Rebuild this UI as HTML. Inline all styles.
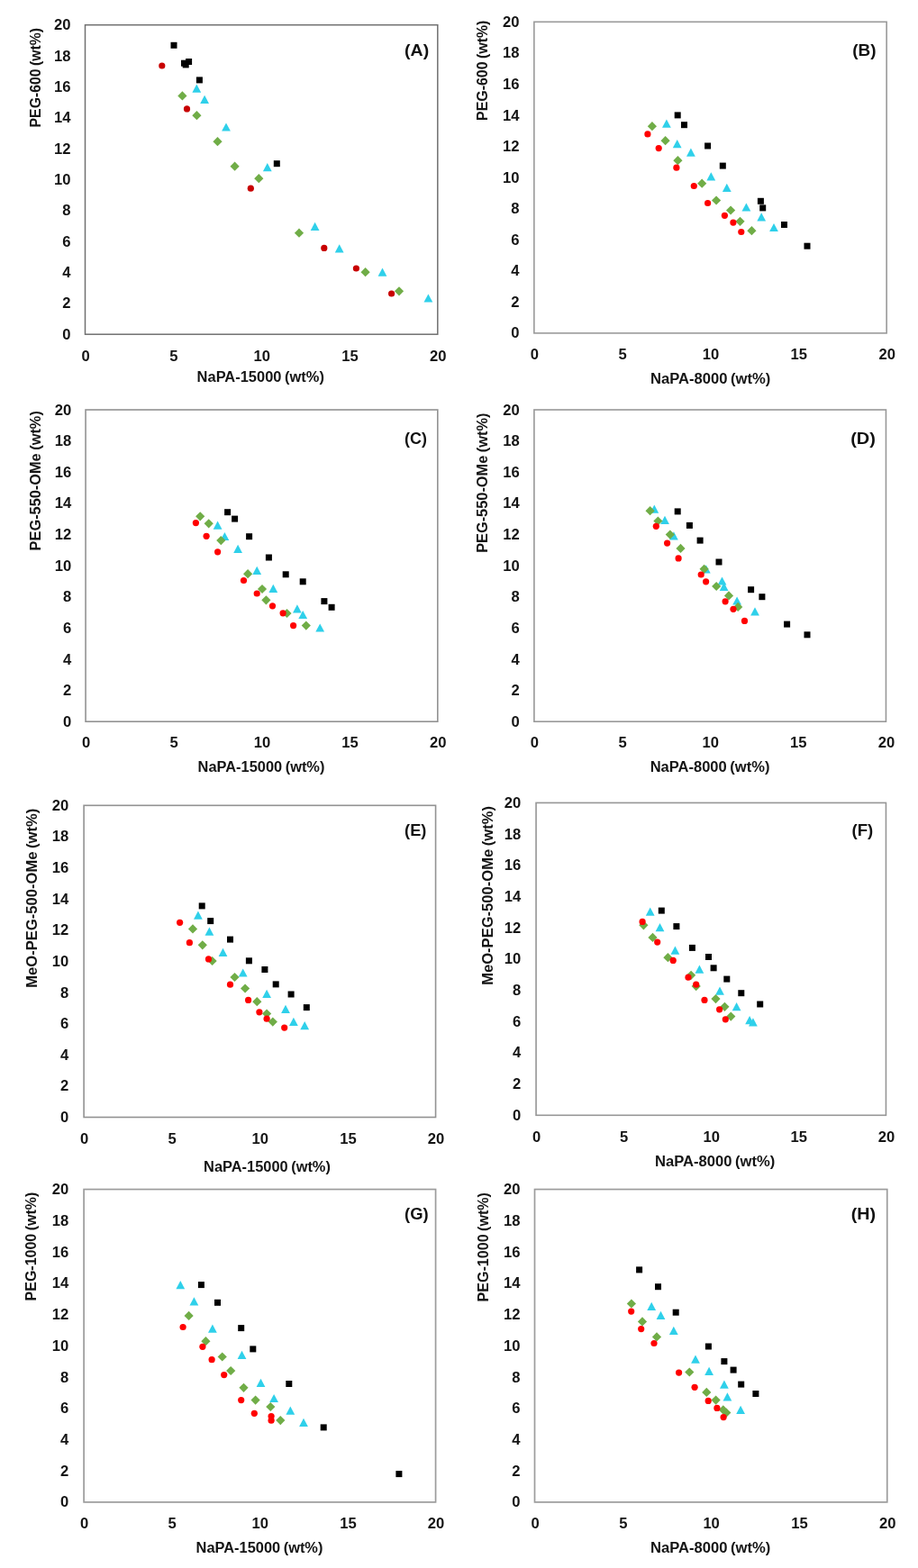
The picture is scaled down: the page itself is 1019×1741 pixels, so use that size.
<!DOCTYPE html>
<html lang="en"><head><meta charset="utf-8"><title>Binodal curves</title>
<style>html,body{margin:0;padding:0;background:#fff}svg{display:block}text{font-family:"Liberation Sans", sans-serif;font-weight:bold;fill:#141414}.t{font-size:16.8px}.ti{word-spacing:-1px}.l{font-size:18px;fill:#111}</style></head><body>
<svg width="1019" height="1741" viewBox="0 0 1019 1741">
<rect width="1019" height="1741" fill="#ffffff"/>
<g id="panel-A">
<rect x="94.5" y="27.7" width="391.3" height="343.5" fill="none" stroke="#707070" stroke-width="1.5"/>
<text class="t" x="69.35" y="376.75" textLength="9.25" lengthAdjust="spacingAndGlyphs">0</text>
<text class="t" x="69.35" y="342.4" textLength="9.25" lengthAdjust="spacingAndGlyphs">2</text>
<text class="t" x="69.35" y="308.05" textLength="9.25" lengthAdjust="spacingAndGlyphs">4</text>
<text class="t" x="69.35" y="273.7" textLength="9.25" lengthAdjust="spacingAndGlyphs">6</text>
<text class="t" x="69.35" y="239.35" textLength="9.25" lengthAdjust="spacingAndGlyphs">8</text>
<text class="t" x="60.11" y="205" textLength="18.49" lengthAdjust="spacingAndGlyphs">10</text>
<text class="t" x="60.11" y="170.65" textLength="18.49" lengthAdjust="spacingAndGlyphs">12</text>
<text class="t" x="60.11" y="136.3" textLength="18.49" lengthAdjust="spacingAndGlyphs">14</text>
<text class="t" x="60.11" y="101.95" textLength="18.49" lengthAdjust="spacingAndGlyphs">16</text>
<text class="t" x="60.11" y="67.6" textLength="18.49" lengthAdjust="spacingAndGlyphs">18</text>
<text class="t" x="60.11" y="33.25" textLength="18.49" lengthAdjust="spacingAndGlyphs">20</text>
<text class="t" x="90.38" y="400.55" textLength="9.25" lengthAdjust="spacingAndGlyphs">0</text>
<text class="t" x="188.2" y="400.55" textLength="9.25" lengthAdjust="spacingAndGlyphs">5</text>
<text class="t" x="281.4" y="400.55" textLength="18.49" lengthAdjust="spacingAndGlyphs">10</text>
<text class="t" x="379.23" y="400.55" textLength="18.49" lengthAdjust="spacingAndGlyphs">15</text>
<text class="t" x="477.05" y="400.55" textLength="18.49" lengthAdjust="spacingAndGlyphs">20</text>
<text class="t ti" x="218.62" y="423.5" textLength="141.26" lengthAdjust="spacingAndGlyphs">NaPA-15000 (wt%)</text>
<text class="t ti" transform="translate(44.54 141.4) rotate(-90)" x="0" y="0" textLength="110.34" lengthAdjust="spacingAndGlyphs">PEG-600 (wt%)</text>
<text class="l" x="449.1" y="62.49" textLength="27.1" lengthAdjust="spacingAndGlyphs">(A)</text>
<rect x="189.5" y="46.8" width="7" height="7" fill="#000000"/>
<rect x="201" y="66.7" width="7" height="7" fill="#000000"/>
<rect x="202.7" y="68.4" width="7" height="7" fill="#000000"/>
<rect x="206.1" y="65" width="7" height="7" fill="#000000"/>
<rect x="217.9" y="85.4" width="7" height="7" fill="#000000"/>
<rect x="303.8" y="178.2" width="7" height="7" fill="#000000"/>
<polygon points="218.3,93.5 223.2,102.7 213.4,102.7" fill="#2fd0ea"/>
<polygon points="227.1,105.7 232,114.9 222.2,114.9" fill="#2fd0ea"/>
<polygon points="251,136.4 255.9,145.6 246.1,145.6" fill="#2fd0ea"/>
<polygon points="296.8,181.1 301.7,190.3 291.9,190.3" fill="#2fd0ea"/>
<polygon points="349.6,246.7 354.5,255.9 344.7,255.9" fill="#2fd0ea"/>
<polygon points="376.7,271.3 381.6,280.5 371.8,280.5" fill="#2fd0ea"/>
<polygon points="424.5,297.5 429.4,306.7 419.6,306.7" fill="#2fd0ea"/>
<polygon points="475.4,326.4 480.3,335.6 470.5,335.6" fill="#2fd0ea"/>
<polygon points="202.4,101.3 207.5,106.4 202.4,111.5 197.3,106.4" fill="#70ad47"/>
<polygon points="218.4,123.1 223.5,128.2 218.4,133.3 213.3,128.2" fill="#70ad47"/>
<polygon points="241.5,152.1 246.6,157.2 241.5,162.3 236.4,157.2" fill="#70ad47"/>
<polygon points="260.6,179.6 265.7,184.7 260.6,189.8 255.5,184.7" fill="#70ad47"/>
<polygon points="287.3,193.1 292.4,198.2 287.3,203.3 282.2,198.2" fill="#70ad47"/>
<polygon points="332,253.6 337.1,258.7 332,263.8 326.9,258.7" fill="#70ad47"/>
<polygon points="405.6,297.1 410.7,302.2 405.6,307.3 400.5,302.2" fill="#70ad47"/>
<polygon points="443,318.2 448.1,323.3 443,328.4 437.9,323.3" fill="#70ad47"/>
<circle cx="179.8" cy="73" r="3.6" fill="#c80000"/>
<circle cx="207.5" cy="120.9" r="3.6" fill="#c80000"/>
<circle cx="278.3" cy="209.2" r="3.6" fill="#c80000"/>
<circle cx="359.8" cy="275.4" r="3.6" fill="#c80000"/>
<circle cx="395.4" cy="298" r="3.6" fill="#c80000"/>
<circle cx="434.6" cy="326" r="3.6" fill="#c80000"/>
</g>
<g id="panel-B">
<rect x="592.85" y="24.3" width="391.3" height="345.6" fill="none" stroke="#9a9a9a" stroke-width="1.6"/>
<text class="t" x="567.25" y="375.45" textLength="9.25" lengthAdjust="spacingAndGlyphs">0</text>
<text class="t" x="567.25" y="340.89" textLength="9.25" lengthAdjust="spacingAndGlyphs">2</text>
<text class="t" x="567.25" y="306.33" textLength="9.25" lengthAdjust="spacingAndGlyphs">4</text>
<text class="t" x="567.25" y="271.77" textLength="9.25" lengthAdjust="spacingAndGlyphs">6</text>
<text class="t" x="567.25" y="237.21" textLength="9.25" lengthAdjust="spacingAndGlyphs">8</text>
<text class="t" x="558.01" y="202.65" textLength="18.49" lengthAdjust="spacingAndGlyphs">10</text>
<text class="t" x="558.01" y="168.09" textLength="18.49" lengthAdjust="spacingAndGlyphs">12</text>
<text class="t" x="558.01" y="133.53" textLength="18.49" lengthAdjust="spacingAndGlyphs">14</text>
<text class="t" x="558.01" y="98.97" textLength="18.49" lengthAdjust="spacingAndGlyphs">16</text>
<text class="t" x="558.01" y="64.41" textLength="18.49" lengthAdjust="spacingAndGlyphs">18</text>
<text class="t" x="558.01" y="29.85" textLength="18.49" lengthAdjust="spacingAndGlyphs">20</text>
<text class="t" x="588.73" y="399.15" textLength="9.25" lengthAdjust="spacingAndGlyphs">0</text>
<text class="t" x="686.55" y="399.15" textLength="9.25" lengthAdjust="spacingAndGlyphs">5</text>
<text class="t" x="779.75" y="399.15" textLength="18.49" lengthAdjust="spacingAndGlyphs">10</text>
<text class="t" x="877.58" y="399.15" textLength="18.49" lengthAdjust="spacingAndGlyphs">15</text>
<text class="t" x="975.4" y="399.15" textLength="18.49" lengthAdjust="spacingAndGlyphs">20</text>
<text class="t ti" x="721.91" y="425.98" textLength="133.45" lengthAdjust="spacingAndGlyphs">NaPA-8000 (wt%)</text>
<text class="t ti" transform="translate(541.48 133.88) rotate(-90)" x="0" y="0" textLength="111.3" lengthAdjust="spacingAndGlyphs">PEG-600 (wt%)</text>
<text class="l" x="946.2" y="62.29" textLength="26.3" lengthAdjust="spacingAndGlyphs">(B)</text>
<rect x="748.7" y="124.4" width="7" height="7" fill="#000000"/>
<rect x="756" y="135.2" width="7" height="7" fill="#000000"/>
<rect x="782.1" y="158.5" width="7" height="7" fill="#000000"/>
<rect x="798.8" y="180.6" width="7" height="7" fill="#000000"/>
<rect x="840.9" y="219.8" width="7" height="7" fill="#000000"/>
<rect x="843.2" y="227.4" width="7" height="7" fill="#000000"/>
<rect x="867" y="246" width="7" height="7" fill="#000000"/>
<rect x="892.5" y="269.7" width="7" height="7" fill="#000000"/>
<polygon points="739.9,132.6 744.8,141.8 735,141.8" fill="#2fd0ea"/>
<polygon points="751.7,155.1 756.6,164.3 746.8,164.3" fill="#2fd0ea"/>
<polygon points="766.9,164.6 771.8,173.8 762,173.8" fill="#2fd0ea"/>
<polygon points="789.3,191.3 794.2,200.5 784.4,200.5" fill="#2fd0ea"/>
<polygon points="806.8,203.8 811.7,213 801.9,213" fill="#2fd0ea"/>
<polygon points="828.4,225.4 833.3,234.6 823.5,234.6" fill="#2fd0ea"/>
<polygon points="845.2,236.2 850.1,245.4 840.3,245.4" fill="#2fd0ea"/>
<polygon points="859,247.9 863.9,257.1 854.1,257.1" fill="#2fd0ea"/>
<polygon points="723.9,135.1 729,140.2 723.9,145.3 718.8,140.2" fill="#70ad47"/>
<polygon points="738.6,151.1 743.7,156.2 738.6,161.3 733.5,156.2" fill="#70ad47"/>
<polygon points="752.4,173.1 757.5,178.2 752.4,183.3 747.3,178.2" fill="#70ad47"/>
<polygon points="779.2,198.6 784.3,203.7 779.2,208.8 774.1,203.7" fill="#70ad47"/>
<polygon points="795.1,217.4 800.2,222.5 795.1,227.6 790,222.5" fill="#70ad47"/>
<polygon points="811.1,228.4 816.2,233.5 811.1,238.6 806,233.5" fill="#70ad47"/>
<polygon points="821.5,240.7 826.6,245.8 821.5,250.9 816.4,245.8" fill="#70ad47"/>
<polygon points="834.4,251.1 839.5,256.2 834.4,261.3 829.3,256.2" fill="#70ad47"/>
<circle cx="718.9" cy="148.9" r="3.6" fill="#ff0000"/>
<circle cx="731.2" cy="164.6" r="3.6" fill="#ff0000"/>
<circle cx="750.9" cy="186.2" r="3.6" fill="#ff0000"/>
<circle cx="770.3" cy="206.5" r="3.6" fill="#ff0000"/>
<circle cx="785.6" cy="225.5" r="3.6" fill="#ff0000"/>
<circle cx="804.4" cy="239.3" r="3.6" fill="#ff0000"/>
<circle cx="813.9" cy="247.1" r="3.6" fill="#ff0000"/>
<circle cx="822.8" cy="257.5" r="3.6" fill="#ff0000"/>
</g>
<g id="panel-C">
<rect x="95.05" y="455" width="390.75" height="346.2" fill="none" stroke="#929292" stroke-width="1.6"/>
<text class="t" x="69.95" y="806.75" textLength="9.25" lengthAdjust="spacingAndGlyphs">0</text>
<text class="t" x="69.95" y="772.13" textLength="9.25" lengthAdjust="spacingAndGlyphs">2</text>
<text class="t" x="69.95" y="737.51" textLength="9.25" lengthAdjust="spacingAndGlyphs">4</text>
<text class="t" x="69.95" y="702.89" textLength="9.25" lengthAdjust="spacingAndGlyphs">6</text>
<text class="t" x="69.95" y="668.27" textLength="9.25" lengthAdjust="spacingAndGlyphs">8</text>
<text class="t" x="60.71" y="633.65" textLength="18.49" lengthAdjust="spacingAndGlyphs">10</text>
<text class="t" x="60.71" y="599.03" textLength="18.49" lengthAdjust="spacingAndGlyphs">12</text>
<text class="t" x="60.71" y="564.41" textLength="18.49" lengthAdjust="spacingAndGlyphs">14</text>
<text class="t" x="60.71" y="529.79" textLength="18.49" lengthAdjust="spacingAndGlyphs">16</text>
<text class="t" x="60.71" y="495.17" textLength="18.49" lengthAdjust="spacingAndGlyphs">18</text>
<text class="t" x="60.71" y="460.55" textLength="18.49" lengthAdjust="spacingAndGlyphs">20</text>
<text class="t" x="90.93" y="829.7" textLength="9.25" lengthAdjust="spacingAndGlyphs">0</text>
<text class="t" x="188.61" y="829.7" textLength="9.25" lengthAdjust="spacingAndGlyphs">5</text>
<text class="t" x="281.68" y="829.7" textLength="18.49" lengthAdjust="spacingAndGlyphs">10</text>
<text class="t" x="379.37" y="829.7" textLength="18.49" lengthAdjust="spacingAndGlyphs">15</text>
<text class="t" x="477.05" y="829.7" textLength="18.49" lengthAdjust="spacingAndGlyphs">20</text>
<text class="t ti" x="219.62" y="856.98" textLength="140.78" lengthAdjust="spacingAndGlyphs">NaPA-15000 (wt%)</text>
<text class="t ti" transform="translate(45.46 611.38) rotate(-90)" x="0" y="0" textLength="155.22" lengthAdjust="spacingAndGlyphs">PEG-550-OMe (wt%)</text>
<text class="l" x="449.1" y="492.69" textLength="24.9" lengthAdjust="spacingAndGlyphs">(C)</text>
<rect x="249.1" y="565.2" width="7" height="7" fill="#000000"/>
<rect x="257.1" y="572.6" width="7" height="7" fill="#000000"/>
<rect x="273.1" y="592.2" width="7" height="7" fill="#000000"/>
<rect x="294.9" y="615.5" width="7" height="7" fill="#000000"/>
<rect x="313.7" y="634.3" width="7" height="7" fill="#000000"/>
<rect x="332.7" y="642.3" width="7" height="7" fill="#000000"/>
<rect x="356.4" y="664.1" width="7" height="7" fill="#000000"/>
<rect x="364.6" y="670.8" width="7" height="7" fill="#000000"/>
<polygon points="241.6,578.6 246.5,587.8 236.7,587.8" fill="#2fd0ea"/>
<polygon points="249.4,590.9 254.3,600.1 244.5,600.1" fill="#2fd0ea"/>
<polygon points="264.1,604.7 269,613.9 259.2,613.9" fill="#2fd0ea"/>
<polygon points="285.2,628.7 290.1,637.9 280.3,637.9" fill="#2fd0ea"/>
<polygon points="303.3,648.8 308.2,658 298.4,658" fill="#2fd0ea"/>
<polygon points="329.9,671.2 334.8,680.4 325,680.4" fill="#2fd0ea"/>
<polygon points="336.2,677.9 341.1,687.1 331.3,687.1" fill="#2fd0ea"/>
<polygon points="355.2,692.4 360.1,701.6 350.3,701.6" fill="#2fd0ea"/>
<polygon points="222.2,568.2 227.3,573.3 222.2,578.4 217.1,573.3" fill="#70ad47"/>
<polygon points="231.7,576.2 236.8,581.3 231.7,586.4 226.6,581.3" fill="#70ad47"/>
<polygon points="245.3,595 250.4,600.1 245.3,605.2 240.2,600.1" fill="#70ad47"/>
<polygon points="275.1,632.1 280.2,637.2 275.1,642.3 270,637.2" fill="#70ad47"/>
<polygon points="291,648.9 296.1,654 291,659.1 285.9,654" fill="#70ad47"/>
<polygon points="295.4,661.2 300.5,666.3 295.4,671.4 290.3,666.3" fill="#70ad47"/>
<polygon points="318.5,675.9 323.6,681 318.5,686.1 313.4,681" fill="#70ad47"/>
<polygon points="339.8,689.5 344.9,694.6 339.8,699.7 334.7,694.6" fill="#70ad47"/>
<circle cx="217.4" cy="580.6" r="3.6" fill="#ff0000"/>
<circle cx="229.1" cy="595.3" r="3.6" fill="#ff0000"/>
<circle cx="241.6" cy="612.8" r="3.6" fill="#ff0000"/>
<circle cx="270.5" cy="644.5" r="3.6" fill="#ff0000"/>
<circle cx="285.2" cy="659" r="3.6" fill="#ff0000"/>
<circle cx="302.5" cy="672.8" r="3.6" fill="#ff0000"/>
<circle cx="314.1" cy="680.8" r="3.6" fill="#ff0000"/>
<circle cx="325.6" cy="694.6" r="3.6" fill="#ff0000"/>
</g>
<g id="panel-D">
<rect x="592.9" y="455" width="390.55" height="346.2" fill="none" stroke="#989898" stroke-width="1.6"/>
<text class="t" x="567.55" y="806.75" textLength="9.25" lengthAdjust="spacingAndGlyphs">0</text>
<text class="t" x="567.55" y="772.13" textLength="9.25" lengthAdjust="spacingAndGlyphs">2</text>
<text class="t" x="567.55" y="737.51" textLength="9.25" lengthAdjust="spacingAndGlyphs">4</text>
<text class="t" x="567.55" y="702.89" textLength="9.25" lengthAdjust="spacingAndGlyphs">6</text>
<text class="t" x="567.55" y="668.27" textLength="9.25" lengthAdjust="spacingAndGlyphs">8</text>
<text class="t" x="558.31" y="633.65" textLength="18.49" lengthAdjust="spacingAndGlyphs">10</text>
<text class="t" x="558.31" y="599.03" textLength="18.49" lengthAdjust="spacingAndGlyphs">12</text>
<text class="t" x="558.31" y="564.41" textLength="18.49" lengthAdjust="spacingAndGlyphs">14</text>
<text class="t" x="558.31" y="529.79" textLength="18.49" lengthAdjust="spacingAndGlyphs">16</text>
<text class="t" x="558.31" y="495.17" textLength="18.49" lengthAdjust="spacingAndGlyphs">18</text>
<text class="t" x="558.31" y="460.55" textLength="18.49" lengthAdjust="spacingAndGlyphs">20</text>
<text class="t" x="588.78" y="829.7" textLength="9.25" lengthAdjust="spacingAndGlyphs">0</text>
<text class="t" x="686.41" y="829.7" textLength="9.25" lengthAdjust="spacingAndGlyphs">5</text>
<text class="t" x="779.43" y="829.7" textLength="18.49" lengthAdjust="spacingAndGlyphs">10</text>
<text class="t" x="877.07" y="829.7" textLength="18.49" lengthAdjust="spacingAndGlyphs">15</text>
<text class="t" x="974.7" y="829.7" textLength="18.49" lengthAdjust="spacingAndGlyphs">20</text>
<text class="t ti" x="721.64" y="856.98" textLength="132.78" lengthAdjust="spacingAndGlyphs">NaPA-8000 (wt%)</text>
<text class="t ti" transform="translate(541.48 613.84) rotate(-90)" x="0" y="0" textLength="155.24" lengthAdjust="spacingAndGlyphs">PEG-550-OMe (wt%)</text>
<text class="l" x="944.2" y="493.09" textLength="27.7" lengthAdjust="spacingAndGlyphs">(D)</text>
<rect x="748.7" y="564.4" width="7" height="7" fill="#000000"/>
<rect x="761.9" y="579.9" width="7" height="7" fill="#000000"/>
<rect x="773.6" y="596.6" width="7" height="7" fill="#000000"/>
<rect x="794.5" y="620.5" width="7" height="7" fill="#000000"/>
<rect x="830.1" y="651.2" width="7" height="7" fill="#000000"/>
<rect x="842.4" y="659.2" width="7" height="7" fill="#000000"/>
<rect x="870.1" y="689.6" width="7" height="7" fill="#000000"/>
<rect x="892.5" y="701.3" width="7" height="7" fill="#000000"/>
<polygon points="726.3,560.5 731.2,569.7 721.4,569.7" fill="#2fd0ea"/>
<polygon points="738,572.8 742.9,582 733.1,582" fill="#2fd0ea"/>
<polygon points="747.9,590.3 752.8,599.5 743,599.5" fill="#2fd0ea"/>
<polygon points="783.8,627.2 788.7,636.4 778.9,636.4" fill="#2fd0ea"/>
<polygon points="801.5,640.4 806.4,649.6 796.6,649.6" fill="#2fd0ea"/>
<polygon points="803.6,646.8 808.5,656 798.7,656" fill="#2fd0ea"/>
<polygon points="818.1,662.4 823,671.6 813.2,671.6" fill="#2fd0ea"/>
<polygon points="838,674.3 842.9,683.5 833.1,683.5" fill="#2fd0ea"/>
<polygon points="721.6,562.1 726.7,567.2 721.6,572.3 716.5,567.2" fill="#70ad47"/>
<polygon points="730.4,573.4 735.5,578.5 730.4,583.6 725.3,578.5" fill="#70ad47"/>
<polygon points="743.8,588.5 748.9,593.6 743.8,598.7 738.7,593.6" fill="#70ad47"/>
<polygon points="755.5,603.8 760.6,608.9 755.5,614 750.4,608.9" fill="#70ad47"/>
<polygon points="781.6,626.7 786.7,631.8 781.6,636.9 776.5,631.8" fill="#70ad47"/>
<polygon points="795.2,645.9 800.3,651 795.2,656.1 790.1,651" fill="#70ad47"/>
<polygon points="809,656.3 814.1,661.4 809,666.5 803.9,661.4" fill="#70ad47"/>
<polygon points="819.2,668.8 824.3,673.9 819.2,679 814.1,673.9" fill="#70ad47"/>
<circle cx="728.3" cy="584.3" r="3.6" fill="#ff0000"/>
<circle cx="740.6" cy="603.1" r="3.6" fill="#ff0000"/>
<circle cx="753.1" cy="619.9" r="3.6" fill="#ff0000"/>
<circle cx="778.2" cy="638" r="3.6" fill="#ff0000"/>
<circle cx="783.6" cy="645.8" r="3.6" fill="#ff0000"/>
<circle cx="805.1" cy="667.8" r="3.6" fill="#ff0000"/>
<circle cx="814" cy="676.3" r="3.6" fill="#ff0000"/>
<circle cx="826.5" cy="689.4" r="3.6" fill="#ff0000"/>
</g>
<g id="panel-E">
<rect x="93.1" y="894.3" width="390.47" height="346.2" fill="none" stroke="#929292" stroke-width="1.6"/>
<text class="t" x="66.95" y="1246.05" textLength="9.25" lengthAdjust="spacingAndGlyphs">0</text>
<text class="t" x="66.95" y="1211.43" textLength="9.25" lengthAdjust="spacingAndGlyphs">2</text>
<text class="t" x="66.95" y="1176.81" textLength="9.25" lengthAdjust="spacingAndGlyphs">4</text>
<text class="t" x="66.95" y="1142.19" textLength="9.25" lengthAdjust="spacingAndGlyphs">6</text>
<text class="t" x="66.95" y="1107.57" textLength="9.25" lengthAdjust="spacingAndGlyphs">8</text>
<text class="t" x="57.71" y="1072.95" textLength="18.49" lengthAdjust="spacingAndGlyphs">10</text>
<text class="t" x="57.71" y="1038.33" textLength="18.49" lengthAdjust="spacingAndGlyphs">12</text>
<text class="t" x="57.71" y="1003.71" textLength="18.49" lengthAdjust="spacingAndGlyphs">14</text>
<text class="t" x="57.71" y="969.09" textLength="18.49" lengthAdjust="spacingAndGlyphs">16</text>
<text class="t" x="57.71" y="934.47" textLength="18.49" lengthAdjust="spacingAndGlyphs">18</text>
<text class="t" x="57.71" y="899.85" textLength="18.49" lengthAdjust="spacingAndGlyphs">20</text>
<text class="t" x="88.98" y="1269.8" textLength="9.25" lengthAdjust="spacingAndGlyphs">0</text>
<text class="t" x="186.59" y="1269.8" textLength="9.25" lengthAdjust="spacingAndGlyphs">5</text>
<text class="t" x="279.59" y="1269.8" textLength="18.49" lengthAdjust="spacingAndGlyphs">10</text>
<text class="t" x="377.21" y="1269.8" textLength="18.49" lengthAdjust="spacingAndGlyphs">15</text>
<text class="t" x="474.82" y="1269.8" textLength="18.49" lengthAdjust="spacingAndGlyphs">20</text>
<text class="t ti" x="226.12" y="1301.46" textLength="140.8" lengthAdjust="spacingAndGlyphs">NaPA-15000 (wt%)</text>
<text class="t ti" transform="translate(41.48 1096.84) rotate(-90)" x="0" y="0" textLength="199.2" lengthAdjust="spacingAndGlyphs">MeO-PEG-500-OMe (wt%)</text>
<text class="l" x="449.1" y="928.09" textLength="24.3" lengthAdjust="spacingAndGlyphs">(E)</text>
<rect x="220.7" y="1002.4" width="7" height="7" fill="#000000"/>
<rect x="230.2" y="1019.1" width="7" height="7" fill="#000000"/>
<rect x="252" y="1039.6" width="7" height="7" fill="#000000"/>
<rect x="272.9" y="1063.3" width="7" height="7" fill="#000000"/>
<rect x="290.4" y="1073" width="7" height="7" fill="#000000"/>
<rect x="302.7" y="1089.4" width="7" height="7" fill="#000000"/>
<rect x="319.6" y="1100.5" width="7" height="7" fill="#000000"/>
<rect x="336.8" y="1115.1" width="7" height="7" fill="#000000"/>
<polygon points="219.9,1011.5 224.8,1020.7 215,1020.7" fill="#2fd0ea"/>
<polygon points="232.4,1029.6 237.3,1038.8 227.5,1038.8" fill="#2fd0ea"/>
<polygon points="247.5,1052.7 252.4,1061.9 242.6,1061.9" fill="#2fd0ea"/>
<polygon points="269.7,1075.4 274.6,1084.6 264.8,1084.6" fill="#2fd0ea"/>
<polygon points="296.1,1098.7 301,1107.9 291.2,1107.9" fill="#2fd0ea"/>
<polygon points="317,1115.8 321.9,1125 312.1,1125" fill="#2fd0ea"/>
<polygon points="325.9,1129.8 330.8,1139 321,1139" fill="#2fd0ea"/>
<polygon points="338.2,1134.1 343.1,1143.3 333.3,1143.3" fill="#2fd0ea"/>
<polygon points="214,1026.3 219.1,1031.4 214,1036.5 208.9,1031.4" fill="#70ad47"/>
<polygon points="224.8,1044.2 229.9,1049.3 224.8,1054.4 219.7,1049.3" fill="#70ad47"/>
<polygon points="235.6,1061.9 240.7,1067 235.6,1072.1 230.5,1067" fill="#70ad47"/>
<polygon points="260.5,1079.9 265.6,1085 260.5,1090.1 255.4,1085" fill="#70ad47"/>
<polygon points="272.1,1092.4 277.2,1097.5 272.1,1102.6 267,1097.5" fill="#70ad47"/>
<polygon points="285.3,1107.1 290.4,1112.2 285.3,1117.3 280.2,1112.2" fill="#70ad47"/>
<polygon points="296.1,1120.4 301.2,1125.5 296.1,1130.6 291,1125.5" fill="#70ad47"/>
<polygon points="302.8,1129.5 307.9,1134.6 302.8,1139.7 297.7,1134.6" fill="#70ad47"/>
<circle cx="199.6" cy="1024.3" r="3.6" fill="#ff0000"/>
<circle cx="210.4" cy="1046.7" r="3.6" fill="#ff0000"/>
<circle cx="231.5" cy="1064.9" r="3.6" fill="#ff0000"/>
<circle cx="255.5" cy="1093.2" r="3.6" fill="#ff0000"/>
<circle cx="275.6" cy="1110.4" r="3.6" fill="#ff0000"/>
<circle cx="287.9" cy="1123.8" r="3.6" fill="#ff0000"/>
<circle cx="296.1" cy="1131.2" r="3.6" fill="#ff0000"/>
<circle cx="315.7" cy="1141.1" r="3.6" fill="#ff0000"/>
</g>
<g id="panel-F">
<rect x="595.05" y="891.4" width="388.4" height="346.9" fill="none" stroke="#969696" stroke-width="1.6"/>
<text class="t" x="569.05" y="1243.85" textLength="9.25" lengthAdjust="spacingAndGlyphs">0</text>
<text class="t" x="569.05" y="1209.16" textLength="9.25" lengthAdjust="spacingAndGlyphs">2</text>
<text class="t" x="569.05" y="1174.47" textLength="9.25" lengthAdjust="spacingAndGlyphs">4</text>
<text class="t" x="569.05" y="1139.78" textLength="9.25" lengthAdjust="spacingAndGlyphs">6</text>
<text class="t" x="569.05" y="1105.09" textLength="9.25" lengthAdjust="spacingAndGlyphs">8</text>
<text class="t" x="559.81" y="1070.4" textLength="18.49" lengthAdjust="spacingAndGlyphs">10</text>
<text class="t" x="559.81" y="1035.71" textLength="18.49" lengthAdjust="spacingAndGlyphs">12</text>
<text class="t" x="559.81" y="1001.02" textLength="18.49" lengthAdjust="spacingAndGlyphs">14</text>
<text class="t" x="559.81" y="966.33" textLength="18.49" lengthAdjust="spacingAndGlyphs">16</text>
<text class="t" x="559.81" y="931.64" textLength="18.49" lengthAdjust="spacingAndGlyphs">18</text>
<text class="t" x="559.81" y="896.95" textLength="18.49" lengthAdjust="spacingAndGlyphs">20</text>
<text class="t" x="590.93" y="1267.7" textLength="9.25" lengthAdjust="spacingAndGlyphs">0</text>
<text class="t" x="688.03" y="1267.7" textLength="9.25" lengthAdjust="spacingAndGlyphs">5</text>
<text class="t" x="780.5" y="1267.7" textLength="18.49" lengthAdjust="spacingAndGlyphs">10</text>
<text class="t" x="877.6" y="1267.7" textLength="18.49" lengthAdjust="spacingAndGlyphs">15</text>
<text class="t" x="974.7" y="1267.7" textLength="18.49" lengthAdjust="spacingAndGlyphs">20</text>
<text class="t ti" x="726.91" y="1294.5" textLength="133.45" lengthAdjust="spacingAndGlyphs">NaPA-8000 (wt%)</text>
<text class="t ti" transform="translate(547 1093.84) rotate(-90)" x="0" y="0" textLength="198.78" lengthAdjust="spacingAndGlyphs">MeO-PEG-500-OMe (wt%)</text>
<text class="l" x="945.6" y="927.99" textLength="23.7" lengthAdjust="spacingAndGlyphs">(F)</text>
<rect x="730.8" y="1007.6" width="7" height="7" fill="#000000"/>
<rect x="747.4" y="1025.1" width="7" height="7" fill="#000000"/>
<rect x="764.9" y="1048.9" width="7" height="7" fill="#000000"/>
<rect x="783" y="1059" width="7" height="7" fill="#000000"/>
<rect x="788.6" y="1071.3" width="7" height="7" fill="#000000"/>
<rect x="803.3" y="1083.6" width="7" height="7" fill="#000000"/>
<rect x="819.3" y="1099.2" width="7" height="7" fill="#000000"/>
<rect x="840.2" y="1111.5" width="7" height="7" fill="#000000"/>
<polygon points="721.7,1007.6 726.6,1016.8 716.8,1016.8" fill="#2fd0ea"/>
<polygon points="732.5,1025.1 737.4,1034.3 727.6,1034.3" fill="#2fd0ea"/>
<polygon points="749.4,1050.6 754.3,1059.8 744.5,1059.8" fill="#2fd0ea"/>
<polygon points="776.4,1071.5 781.3,1080.7 771.5,1080.7" fill="#2fd0ea"/>
<polygon points="799,1095.5 803.9,1104.7 794.1,1104.7" fill="#2fd0ea"/>
<polygon points="817.6,1113 822.5,1122.2 812.7,1122.2" fill="#2fd0ea"/>
<polygon points="832.1,1128.1 837,1137.3 827.2,1137.3" fill="#2fd0ea"/>
<polygon points="835.9,1130.2 840.8,1139.4 831,1139.4" fill="#2fd0ea"/>
<polygon points="714.4,1022.2 719.5,1027.3 714.4,1032.4 709.3,1027.3" fill="#70ad47"/>
<polygon points="724.5,1035.8 729.6,1040.9 724.5,1046 719.4,1040.9" fill="#70ad47"/>
<polygon points="741.4,1058.1 746.5,1063.2 741.4,1068.3 736.3,1063.2" fill="#70ad47"/>
<polygon points="767.1,1077.7 772.2,1082.8 767.1,1087.9 762,1082.8" fill="#70ad47"/>
<polygon points="772.7,1090 777.8,1095.1 772.7,1100.2 767.6,1095.1" fill="#70ad47"/>
<polygon points="794.5,1104 799.6,1109.1 794.5,1114.2 789.4,1109.1" fill="#70ad47"/>
<polygon points="804.4,1112.7 809.5,1117.8 804.4,1122.9 799.3,1117.8" fill="#70ad47"/>
<polygon points="811.3,1123.5 816.4,1128.6 811.3,1133.7 806.2,1128.6" fill="#70ad47"/>
<circle cx="713.1" cy="1023.4" r="3.6" fill="#ff0000"/>
<circle cx="729.7" cy="1046.1" r="3.6" fill="#ff0000"/>
<circle cx="747.2" cy="1066.4" r="3.6" fill="#ff0000"/>
<circle cx="764" cy="1085.2" r="3.6" fill="#ff0000"/>
<circle cx="772.7" cy="1093.2" r="3.6" fill="#ff0000"/>
<circle cx="782" cy="1110.4" r="3.6" fill="#ff0000"/>
<circle cx="798.6" cy="1120.8" r="3.6" fill="#ff0000"/>
<circle cx="805.3" cy="1131.8" r="3.6" fill="#ff0000"/>
</g>
<g id="panel-G">
<rect x="93.1" y="1320.55" width="390.47" height="347.35" fill="none" stroke="#9c9c9c" stroke-width="1.7"/>
<text class="t" x="66.95" y="1673.45" textLength="9.25" lengthAdjust="spacingAndGlyphs">0</text>
<text class="t" x="66.95" y="1638.71" textLength="9.25" lengthAdjust="spacingAndGlyphs">2</text>
<text class="t" x="66.95" y="1603.98" textLength="9.25" lengthAdjust="spacingAndGlyphs">4</text>
<text class="t" x="66.95" y="1569.25" textLength="9.25" lengthAdjust="spacingAndGlyphs">6</text>
<text class="t" x="66.95" y="1534.51" textLength="9.25" lengthAdjust="spacingAndGlyphs">8</text>
<text class="t" x="57.71" y="1499.77" textLength="18.49" lengthAdjust="spacingAndGlyphs">10</text>
<text class="t" x="57.71" y="1465.04" textLength="18.49" lengthAdjust="spacingAndGlyphs">12</text>
<text class="t" x="57.71" y="1430.31" textLength="18.49" lengthAdjust="spacingAndGlyphs">14</text>
<text class="t" x="57.71" y="1395.57" textLength="18.49" lengthAdjust="spacingAndGlyphs">16</text>
<text class="t" x="57.71" y="1360.83" textLength="18.49" lengthAdjust="spacingAndGlyphs">18</text>
<text class="t" x="57.71" y="1326.1" textLength="18.49" lengthAdjust="spacingAndGlyphs">20</text>
<text class="t" x="88.98" y="1697.1" textLength="9.25" lengthAdjust="spacingAndGlyphs">0</text>
<text class="t" x="186.59" y="1697.1" textLength="9.25" lengthAdjust="spacingAndGlyphs">5</text>
<text class="t" x="279.59" y="1697.1" textLength="18.49" lengthAdjust="spacingAndGlyphs">10</text>
<text class="t" x="377.21" y="1697.1" textLength="18.49" lengthAdjust="spacingAndGlyphs">15</text>
<text class="t" x="474.82" y="1697.1" textLength="18.49" lengthAdjust="spacingAndGlyphs">20</text>
<text class="t ti" x="217.62" y="1723.5" textLength="140.78" lengthAdjust="spacingAndGlyphs">NaPA-15000 (wt%)</text>
<text class="t ti" transform="translate(40 1444.38) rotate(-90)" x="0" y="0" textLength="120.74" lengthAdjust="spacingAndGlyphs">PEG-1000 (wt%)</text>
<text class="l" x="449.1" y="1353.89" textLength="26.6" lengthAdjust="spacingAndGlyphs">(G)</text>
<rect x="219.9" y="1423.1" width="7" height="7" fill="#000000"/>
<rect x="238" y="1442.8" width="7" height="7" fill="#000000"/>
<rect x="264.2" y="1471.1" width="7" height="7" fill="#000000"/>
<rect x="277.3" y="1494.4" width="7" height="7" fill="#000000"/>
<rect x="317.3" y="1533" width="7" height="7" fill="#000000"/>
<rect x="355.7" y="1581.4" width="7" height="7" fill="#000000"/>
<rect x="439.4" y="1633.1" width="7" height="7" fill="#000000"/>
<polygon points="200.3,1422 205.2,1431.2 195.4,1431.2" fill="#2fd0ea"/>
<polygon points="215.4,1440.2 220.3,1449.4 210.5,1449.4" fill="#2fd0ea"/>
<polygon points="235.9,1470.6 240.8,1479.8 231,1479.8" fill="#2fd0ea"/>
<polygon points="268.5,1499.7 273.4,1508.9 263.6,1508.9" fill="#2fd0ea"/>
<polygon points="289.5,1530.8 294.4,1540 284.6,1540" fill="#2fd0ea"/>
<polygon points="304.1,1547.9 309,1557.1 299.2,1557.1" fill="#2fd0ea"/>
<polygon points="322.3,1561.5 327.2,1570.7 317.4,1570.7" fill="#2fd0ea"/>
<polygon points="337,1574.7 341.9,1583.9 332.1,1583.9" fill="#2fd0ea"/>
<polygon points="209.6,1455.8 214.7,1460.9 209.6,1466 204.5,1460.9" fill="#70ad47"/>
<polygon points="228.4,1484.1 233.5,1489.2 228.4,1494.3 223.3,1489.2" fill="#70ad47"/>
<polygon points="246.7,1501.4 251.8,1506.5 246.7,1511.6 241.6,1506.5" fill="#70ad47"/>
<polygon points="256.2,1516.9 261.3,1522 256.2,1527.1 251.1,1522" fill="#70ad47"/>
<polygon points="270.5,1535.7 275.6,1540.8 270.5,1545.9 265.4,1540.8" fill="#70ad47"/>
<polygon points="283.6,1549.5 288.7,1554.6 283.6,1559.7 278.5,1554.6" fill="#70ad47"/>
<polygon points="300.3,1556.9 305.4,1562 300.3,1567.1 295.2,1562" fill="#70ad47"/>
<polygon points="311.3,1572 316.4,1577.1 311.3,1582.2 306.2,1577.1" fill="#70ad47"/>
<circle cx="203.1" cy="1473.5" r="3.6" fill="#ff0000"/>
<circle cx="224.9" cy="1495.3" r="3.6" fill="#ff0000"/>
<circle cx="235.1" cy="1509.7" r="3.6" fill="#ff0000"/>
<circle cx="248.7" cy="1526.6" r="3.6" fill="#ff0000"/>
<circle cx="267.7" cy="1554.6" r="3.6" fill="#ff0000"/>
<circle cx="282.3" cy="1569.3" r="3.6" fill="#ff0000"/>
<circle cx="301.1" cy="1572.5" r="3.6" fill="#ff0000"/>
<circle cx="301.1" cy="1577.2" r="3.6" fill="#ff0000"/>
</g>
<g id="panel-H">
<rect x="593.5" y="1320.55" width="391.25" height="347.35" fill="none" stroke="#9c9c9c" stroke-width="1.7"/>
<text class="t" x="568.25" y="1673.45" textLength="9.25" lengthAdjust="spacingAndGlyphs">0</text>
<text class="t" x="568.25" y="1638.71" textLength="9.25" lengthAdjust="spacingAndGlyphs">2</text>
<text class="t" x="568.25" y="1603.98" textLength="9.25" lengthAdjust="spacingAndGlyphs">4</text>
<text class="t" x="568.25" y="1569.25" textLength="9.25" lengthAdjust="spacingAndGlyphs">6</text>
<text class="t" x="568.25" y="1534.51" textLength="9.25" lengthAdjust="spacingAndGlyphs">8</text>
<text class="t" x="559.01" y="1499.77" textLength="18.49" lengthAdjust="spacingAndGlyphs">10</text>
<text class="t" x="559.01" y="1465.04" textLength="18.49" lengthAdjust="spacingAndGlyphs">12</text>
<text class="t" x="559.01" y="1430.31" textLength="18.49" lengthAdjust="spacingAndGlyphs">14</text>
<text class="t" x="559.01" y="1395.57" textLength="18.49" lengthAdjust="spacingAndGlyphs">16</text>
<text class="t" x="559.01" y="1360.83" textLength="18.49" lengthAdjust="spacingAndGlyphs">18</text>
<text class="t" x="559.01" y="1326.1" textLength="18.49" lengthAdjust="spacingAndGlyphs">20</text>
<text class="t" x="589.38" y="1697.1" textLength="9.25" lengthAdjust="spacingAndGlyphs">0</text>
<text class="t" x="687.19" y="1697.1" textLength="9.25" lengthAdjust="spacingAndGlyphs">5</text>
<text class="t" x="780.38" y="1697.1" textLength="18.49" lengthAdjust="spacingAndGlyphs">10</text>
<text class="t" x="878.19" y="1697.1" textLength="18.49" lengthAdjust="spacingAndGlyphs">15</text>
<text class="t" x="976" y="1697.1" textLength="18.49" lengthAdjust="spacingAndGlyphs">20</text>
<text class="t ti" x="721.91" y="1723.5" textLength="133.45" lengthAdjust="spacingAndGlyphs">NaPA-8000 (wt%)</text>
<text class="t ti" transform="translate(541.52 1445.4) rotate(-90)" x="0" y="0" textLength="121.26" lengthAdjust="spacingAndGlyphs">PEG-1000 (wt%)</text>
<text class="l" x="944.8" y="1353.89" textLength="27.4" lengthAdjust="spacingAndGlyphs">(H)</text>
<rect x="706.1" y="1406.4" width="7" height="7" fill="#000000"/>
<rect x="727" y="1425.2" width="7" height="7" fill="#000000"/>
<rect x="746.7" y="1453.7" width="7" height="7" fill="#000000"/>
<rect x="782.9" y="1491.5" width="7" height="7" fill="#000000"/>
<rect x="800.4" y="1508.1" width="7" height="7" fill="#000000"/>
<rect x="810.6" y="1517.6" width="7" height="7" fill="#000000"/>
<rect x="819.2" y="1533.6" width="7" height="7" fill="#000000"/>
<rect x="835.4" y="1544" width="7" height="7" fill="#000000"/>
<polygon points="723.2,1445.7 728.1,1454.9 718.3,1454.9" fill="#2fd0ea"/>
<polygon points="733.5,1455.8 738.4,1465 728.6,1465" fill="#2fd0ea"/>
<polygon points="747.8,1472.7 752.7,1481.9 742.9,1481.9" fill="#2fd0ea"/>
<polygon points="772,1504.6 776.9,1513.8 767.1,1513.8" fill="#2fd0ea"/>
<polygon points="787.1,1517.8 792,1527 782.2,1527" fill="#2fd0ea"/>
<polygon points="803.9,1532.5 808.8,1541.7 799,1541.7" fill="#2fd0ea"/>
<polygon points="807.4,1546.3 812.3,1555.5 802.5,1555.5" fill="#2fd0ea"/>
<polygon points="822.1,1560.8 827,1570 817.2,1570" fill="#2fd0ea"/>
<polygon points="700.9,1442.4 706,1447.5 700.9,1452.6 695.8,1447.5" fill="#70ad47"/>
<polygon points="713,1462.3 718.1,1467.4 713,1472.5 707.9,1467.4" fill="#70ad47"/>
<polygon points="729,1479.3 734.1,1484.4 729,1489.5 723.9,1484.4" fill="#70ad47"/>
<polygon points="765.3,1518.4 770.4,1523.5 765.3,1528.6 760.2,1523.5" fill="#70ad47"/>
<polygon points="784.3,1540.8 789.4,1545.9 784.3,1551 779.2,1545.9" fill="#70ad47"/>
<polygon points="794.6,1549.5 799.7,1554.6 794.6,1559.7 789.5,1554.6" fill="#70ad47"/>
<polygon points="802.8,1560.3 807.9,1565.4 802.8,1570.5 797.7,1565.4" fill="#70ad47"/>
<polygon points="806.3,1563.5 811.4,1568.6 806.3,1573.7 801.2,1568.6" fill="#70ad47"/>
<circle cx="700.7" cy="1456.1" r="3.6" fill="#ff0000"/>
<circle cx="711.7" cy="1475.6" r="3.6" fill="#ff0000"/>
<circle cx="726" cy="1491.5" r="3.6" fill="#ff0000"/>
<circle cx="753.6" cy="1524.1" r="3.6" fill="#ff0000"/>
<circle cx="771.1" cy="1540.3" r="3.6" fill="#ff0000"/>
<circle cx="786.2" cy="1555.4" r="3.6" fill="#ff0000"/>
<circle cx="795.9" cy="1563.4" r="3.6" fill="#ff0000"/>
<circle cx="803.1" cy="1573.6" r="3.6" fill="#ff0000"/>
</g>
</svg></body></html>
